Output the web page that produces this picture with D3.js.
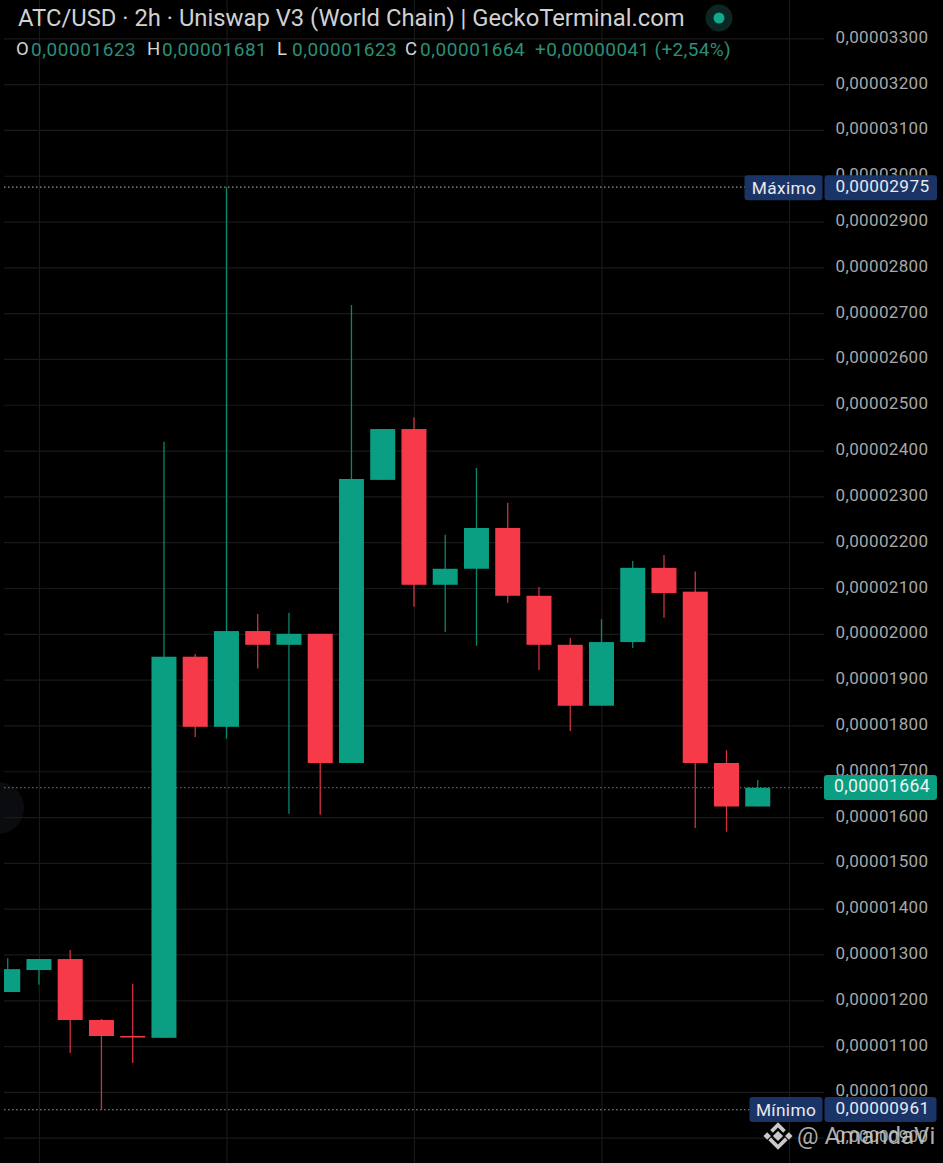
<!DOCTYPE html>
<html><head><meta charset="utf-8">
<script src="https://cdn.jsdelivr.net/npm/d3@7"></script>
<style>html,body{margin:0;padding:0;background:#000;overflow:hidden}svg{display:block}text{font-family:Roboto,sans-serif}</style>
</head><body><svg id="c" width="943" height="1163"></svg>
<script>
// prices in units of 1e-8 USD
const opens =[1218,1266,1290,1157,1122,1118,1950,1797,2006,1976,2000,1718,2336,2447,2107,2142,2231,2083,1976,1843,1982,2144,2092,1718,1623];
const closes=[1268,1290,1157,1122,1119,1950,1797,2006,1976,2000,1718,2338,2447,2107,2142,2231,2083,1976,1843,1982,2144,2089,1718,1623,1664];
const highs =[1292,1290,1310,1159,1236,2419,1956,2975,2043,2046,2000,2718,2447,2473,2216,2362,2286,2102,1991,2032,2159,2172,2136,1746,1681];
const lows  =[1218,1234,1085, 961,1063,1118,1775,1771,1924,1607,1605,1718,2336,2059,2004,1974,2068,1921,1788,1843,1969,2035,1576,1568,1623];
const priceTicks=[3300,3200,3100,3000,2900,2800,2700,2600,2500,2400,2300,2200,2100,2000,1900,1800,1700,1600,1500,1400,1300,1200,1100,1000,900];
const timeGridIdx=[1,7,13,19,25];
const title="ATC/USD · 2h · Uniswap V3 (World Chain) | GeckoTerminal.com";
const ohlc=[["O","0,00001623"],["H","0,00001681"],["L","0,00001623"],["C","0,00001664"]];
const changeText="+0,00000041 (+2,54%)";
const maxPrice=2975,minPrice=961,lastPrice=1664;

const GREEN="#0a9e82",RED="#f73a4a",NAVY="#1b3467",GRID="#18191b",LBL="#a6a8ab";
const fmt=v=>(v/1e8).toFixed(8).replace(".",",");
const svg=d3.select("#c");
svg.append("rect").attr("width",943).attr("height",1163).attr("fill","#000");
const y=d3.scaleLinear().domain([3300,900]).range([38.3,1137.7]);
const x=d3.scaleLinear().domain([0,25]).range([7.7,789]);
const bw=25, L=4, R=824;

svg.append("defs").append("clipPath").attr("id","pl").append("rect").attr("x",L).attr("y",0).attr("width",R-L).attr("height",1163);

// faint circle on the left edge
svg.append("circle").attr("cx",-2).attr("cy",808).attr("r",26).attr("fill","#0a0c0f");

// grid
svg.append("g").attr("transform",`translate(${L},0)`)
  .call(d3.axisRight(y).tickValues(priceTicks).tickSize(R-L).tickFormat(""))
  .call(g=>{g.select(".domain").remove();g.selectAll("line").attr("stroke",GRID).attr("stroke-width",1.2)});
svg.append("g").attr("transform","translate(0,0)")
  .call(d3.axisBottom(x).tickValues(timeGridIdx).tickSize(1163).tickFormat(""))
  .call(g=>{g.select(".domain").remove();g.selectAll("line").attr("stroke",GRID).attr("stroke-width",1.2)});

// price labels
svg.append("g").attr("transform","translate(882,0)")
  .call(d3.axisRight(y).tickValues(priceTicks).tickSize(0).tickPadding(0).tickFormat(fmt))
  .call(g=>{g.select(".domain").remove();g.selectAll("text").attr("x",0).attr("dy",0).attr("y",-2)
     .attr("text-anchor","middle").attr("dominant-baseline","central").attr("fill",LBL).attr("font-size",17).attr("letter-spacing",0.35).style("font-family","Roboto,sans-serif")});

// dotted reference lines
const dot=(v,x2,c,o)=>svg.append("line").attr("x1",L).attr("x2",x2).attr("y1",y(v)).attr("y2",y(v))
  .attr("stroke",c).attr("stroke-opacity",o).attr("stroke-dasharray","1.5 2.5").attr("stroke-width",1.2);
dot(maxPrice,745,"#c8cacc",.75);
dot(minPrice,750,"#c8cacc",.75);
dot(lastPrice,824,"#9aa6a2",.6);

// candles
const idx=d3.range(opens.length);
const col=i=>closes[i]>=opens[i]?GREEN:RED;
const pl=svg.append("g").attr("clip-path","url(#pl)");
pl.selectAll(".w").data(idx).join("line").attr("class","w")
  .attr("x1",x).attr("x2",x).attr("y1",i=>y(highs[i])).attr("y2",i=>y(lows[i]))
  .attr("stroke",col).attr("stroke-opacity",.85).attr("stroke-width",1.3);
pl.selectAll(".b").data(idx).join("rect").attr("class","b")
  .attr("x",i=>x(i)-bw/2).attr("width",bw)
  .attr("y",i=>Math.min(y(opens[i]),y(closes[i])))
  .attr("height",i=>Math.max(1.5,Math.abs(y(opens[i])-y(closes[i]))))
  .attr("fill",col);

// tags
function tag(x0,x1,cy,h,fill,txt,tc,fs,cx,dy){
  svg.append("rect").attr("x",x0).attr("y",cy-h/2).attr("width",x1-x0).attr("height",h).attr("rx",3).attr("fill",fill);
  svg.append("text").attr("x",cx).attr("y",cy+dy).attr("text-anchor","middle").attr("dominant-baseline","central")
    .attr("fill",tc).attr("font-size",fs).attr("letter-spacing",0.35).text(txt);
}
tag(744.5,822.5,y(maxPrice)+0.5,25,NAVY,"Máximo","#e8eaee",17.3,784,0.5);
tag(824.5,937,y(maxPrice)+0.5,25,NAVY,fmt(maxPrice),"#e8eaee",17.2,882.5,-1.5);
tag(749.5,822.5,y(minPrice)-0.3,25,NAVY,"Mínimo","#e8eaee",17.3,786,1);
tag(824.5,936.5,y(minPrice)-0.3,25,NAVY,fmt(minPrice),"#e8eaee",17.2,882.5,-1.5);
tag(824,937,y(lastPrice)-0.3,25,GREEN,fmt(lastPrice),"#e9f5f2",17.6,882,-1.5);

// header
svg.append("text").attr("x",18).attr("y",18).attr("dominant-baseline","central").attr("fill","#cfd1d3").attr("font-size",23.8).text(title);
svg.append("circle").attr("cx",719).attr("cy",18).attr("r",13.5).attr("fill","#0b2623");
svg.append("circle").attr("cx",719).attr("cy",18).attr("r",5.5).attr("fill","#12a88c");
const LEG="#2b8f78";
const lx=[16,147,277,405], vx=[31,162,292,420];
ohlc.forEach((d,i)=>{
  svg.append("text").attr("x",lx[i]).attr("y",49).attr("dominant-baseline","central").attr("fill","#d2d4d6").attr("font-size",18.5).text(d[0]);
  svg.append("text").attr("x",vx[i]).attr("y",49).attr("dominant-baseline","central").attr("fill",LEG).attr("font-size",19).attr("letter-spacing",0.55).text(d[1]);
});
svg.append("text").attr("x",535).attr("y",49).attr("dominant-baseline","central").attr("fill",LEG).attr("font-size",19).attr("letter-spacing",0.35).text(changeText);

// watermark
const wm=svg.append("g").attr("transform","translate(778,1136) scale(1.2)").attr("fill","#c9c9c9");
[[0,0,3],[-9,0,2.2],[9,0,2.2]].forEach(d=>wm.append("rect").attr("x",d[0]-d[2]).attr("y",d[1]-d[2]).attr("width",2*d[2]).attr("height",2*d[2]).attr("transform",`rotate(45 ${d[0]} ${d[1]})`));
wm.append("path").attr("d","M-8 3.5 L0 11.5 L8 3.5 L5.8 1.3 L0 7 L-5.8 1.3 Z M-6.5 -5 L0 -11.5 L6.5 -5 L4.3 -2.8 L0 -7 L-4.3 -2.8 Z");
svg.append("text").attr("x",797).attr("y",1136).attr("dominant-baseline","central").attr("fill","#c6c6c6").attr("fill-opacity",.88).attr("font-size",24).text("@ AmandaVi");
</script></body></html>
